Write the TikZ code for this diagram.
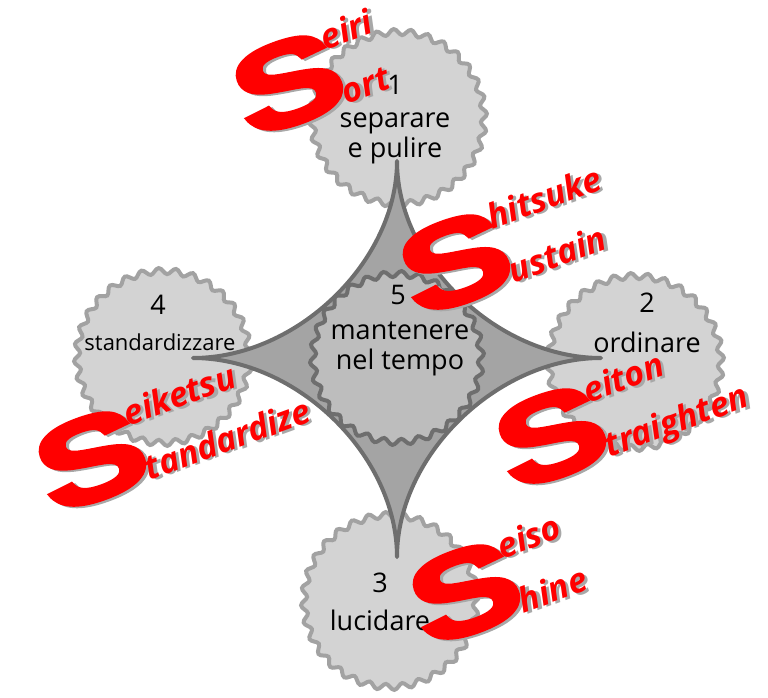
\documentclass[tikz,border=0pt]{standalone}
\usepackage{fontspec}
\usepackage{xcolor}
\usepackage{tikz}
\usetikzlibrary{calc}
\setmainfont{Open Sans}
\newfontfamily\bigSfont{Liberation Sans}[BoldFeatures={FakeBold=3}]
\newfontfamily\wordfont{Open Sans}

\definecolor{gearfill}{HTML}{D3D3D3}
\definecolor{gearline}{HTML}{A2A2A2}
\definecolor{hubfill}{HTML}{BDBDBD}
\definecolor{hubline}{HTML}{6E6E6E}
\definecolor{starfill}{HTML}{A4A4A4}
\definecolor{sred}{HTML}{FF0000}
\definecolor{sshadow}{HTML}{A8A8A8}

% one "S" word pair: name, position, first word, second word
\newcommand{\sgroup}[4]{%
\begin{scope}[shift={#2}, rotate=20, transform shape]
\node[bigS, text=sshadow] at (2.5,-2.5) {S};
\node[bigS] (#1S) at (0,0) {S};
\node[sword, text=sshadow] at (48.5,15.5) {#3};
\node[sword] (#1a) at (46,18) {#3};
\node[sword, text=sshadow] at (50.5,-42.5) {#4};
\node[sword] (#1b) at (48,-40) {#4};
\end{scope}}

\begin{document}
\begin{tikzpicture}[x=1pt, y=1pt,
  gear/.style={draw=gearline, line width=4pt, fill=gearfill},
  hub/.style={draw=hubline, line width=4pt, fill=hubfill},
  star/.style={draw=hubline, line width=4pt, fill=starfill, line join=round},
  label/.style={font=\fontsize{27}{30}\selectfont, align=center, inner sep=0pt},
  bigS/.style={font=\bigSfont\bfseries\fontsize{118}{118}\selectfont, text=sred, inner sep=0pt, xscale=1.4},
  sword/.style={font=\wordfont\bfseries\itshape\fontsize{34}{34}\selectfont, text=sred, inner sep=0pt, anchor=base west},
]
\useasboundingbox (0,0) rectangle (768,697);

% gear centres
\coordinate (g1) at (398,579);
\coordinate (g2) at (635,335);
\coordinate (g3) at (390,96);
\coordinate (g4) at (163,340);
\coordinate (g5) at (397,339);

% outer gears
\foreach \g in {g1,g2,g3,g4}
  \draw[gear, shift={(\g)}] plot[smooth cycle, domain=0:358.59375, samples=256] (\x:{86+3*sin(32*\x)});

% four pointed star
\coordinate (tT) at (397,536);
\coordinate (tR) at (601,339);
\coordinate (tB) at (397,140);
\coordinate (tL) at (193,339);
\draw[star] (tT) .. controls ($(tT)!0.51!(g5)$) and ($(tR)!0.51!(g5)$) .. (tR)
  .. controls ($(tR)!0.51!(g5)$) and ($(tB)!0.51!(g5)$) .. (tB)
  .. controls ($(tB)!0.51!(g5)$) and ($(tL)!0.51!(g5)$) .. (tL)
  .. controls ($(tL)!0.51!(g5)$) and ($(tT)!0.51!(g5)$) .. (tT) -- cycle;

% centre gear
\draw[hub, shift={(g5)}] plot[smooth cycle, domain=0:358.5, samples=240] (\x:{84+3*sin(30*\x)});

% gear texts
\node[label] (n1) at (395,612) {1};
\node[label] (t1) at (395,559) {separare\\e pulire};
\node[label] (n2) at (647,394) {2};
\node[label] (t2) at (647,355) {ordinare};
\node[label] (n3) at (380,114) {3};
\node[label] (t3) at (380,77) {lucidare};
\node[label] (n4) at (158,392) {4};
\node[label, font=\fontsize{22}{26}\selectfont] (t4) at (160,355) {standardizzare};
\node[label] (n5) at (398,402) {5};
\node[label] (t5) at (400,348) {mantenere\\nel tempo};

% the five S
\sgroup{seiri}{(288,614)}{eiri}{ort}
\sgroup{shitsuke}{(455,435)}{hitsuke}{ustain}
\sgroup{seiton}{(551,261)}{eiton}{traighten}
\sgroup{seiketsu}{(91,238)}{eiketsu}{tandardize}
\sgroup{seiso}{(465,105)}{eiso}{hine}
\end{tikzpicture}
\end{document}
